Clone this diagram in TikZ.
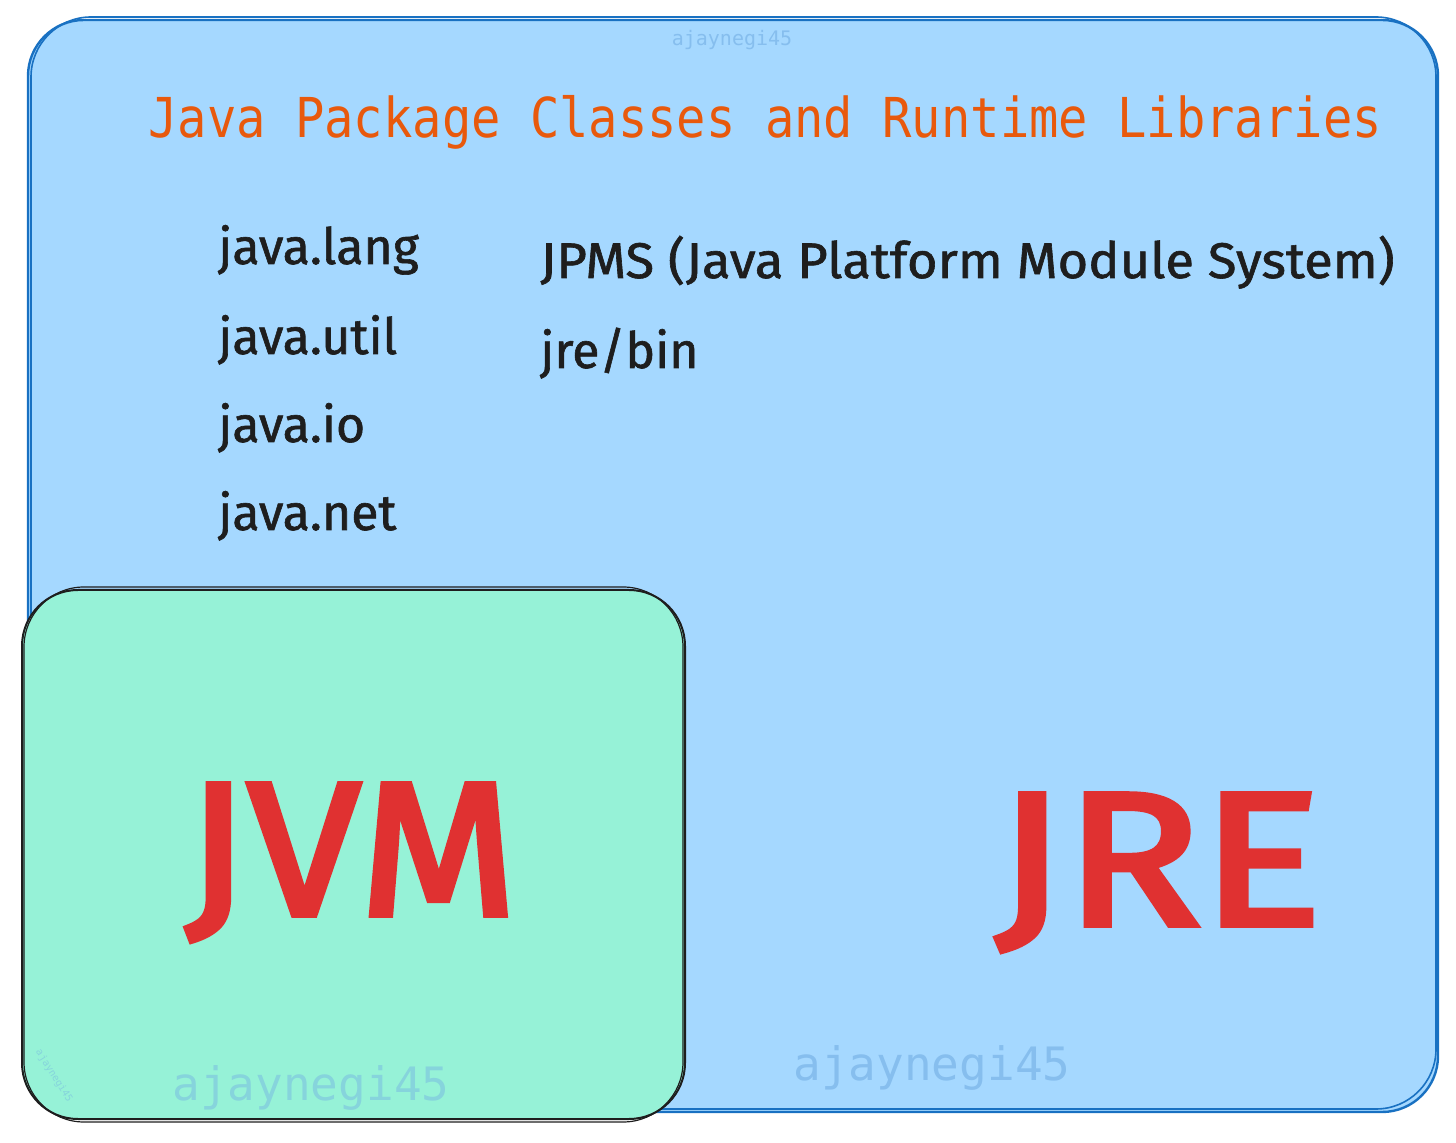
\documentclass[tikz,border=0pt]{standalone}
\usepackage{fontspec}
\setmainfont{Fira Sans}
\newfontfamily\titlefont{DejaVu Sans Mono}
\newfontfamily\handfont[FakeBold=1.2]{Fira Sans}
\newfontfamily\bigfont[FakeBold=3]{Fira Sans}
\definecolor{jrefill}{HTML}{A5D8FF}
\definecolor{jrestroke}{HTML}{1971C2}
\definecolor{jvmfill}{HTML}{96F2D7}
\definecolor{inkblack}{HTML}{1E1E1E}
\definecolor{titleorange}{HTML}{E8590C}
\definecolor{bigred}{HTML}{E03131}
\definecolor{wmblue}{HTML}{86BEEE}
\definecolor{wmgreen}{HTML}{86D4DC}
\tikzset{
  pkg/.style={font=\handfont\fontsize{25}{28}\selectfont, text=inkblack, anchor=base west, inner sep=0},
  big/.style={font=\bigfont\fontsize{95}{100}\selectfont, text=bigred, anchor=base west, inner sep=0},
  wm/.style={font=\titlefont\fontsize{#1}{#1}\selectfont, inner sep=0},
}
\begin{document}
\begin{tikzpicture}[x=0.5pt,y=-0.5pt]
\useasboundingbox (0,0) rectangle (1456,1143);
% JRE box
\fill[jrefill, rounded corners=28pt] (28,20) rectangle (1438,1112);
\draw[jrestroke, line width=1.2pt, rounded corners=28pt] (28,20) rectangle (1438,1112);
\draw[jrestroke, line width=0.8pt, rounded corners=30pt] (31,17) rectangle (1436,1109);
% title
\node[font=\titlefont\fontsize{27.5}{30}\selectfont, text=titleorange, anchor=base west, inner sep=0, xscale=0.887] (title) at (148,138) {Java Package Classes and Runtime Libraries};
% watermark top
\node[wm=10, text=wmblue] (wmtop) at (732,40) {ajaynegi45};
% packages
\node[pkg] (lang) at (218,264) {java.lang};
\node[pkg] (util) at (218,354) {java.util};
\node[pkg] (io) at (218,442) {java.io};
\node[pkg] (net) at (218,530) {java.net};
\node[pkg, xscale=1.05] (jpms) at (540,278) {JPMS (Java Platform Module System)};
\node[pkg] (bin) at (540,368) {jre/bin};
% bottom watermark in JRE
\node[wm=23, text=wmblue] (wmjre) at (932,1068) {ajaynegi45};
% JVM box
\fill[jvmfill, rounded corners=28pt] (22,590) rectangle (685,1119);
\draw[inkblack, line width=1pt, rounded corners=28pt] (22,590) rectangle (685,1119);
\draw[inkblack, line width=0.6pt, rounded corners=30pt] (24,587) rectangle (683,1122);
\node[wm=23, text=wmgreen] (wmjvm) at (311,1088) {ajaynegi45};
\node[wm=5, text=wmgreen, rotate=-58] (wmsmall) at (54,1076) {ajaynegi45};
% big labels
\node[big, xscale=1.07] (jvm) at (185,915) {JVM};
\node[big, xscale=1.19] (jrel) at (995,925) {JRE};
\end{tikzpicture}
\end{document}
